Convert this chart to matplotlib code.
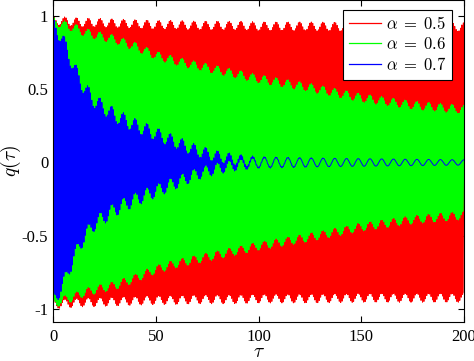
import numpy as np
import matplotlib
matplotlib.use("Agg")
import matplotlib.pyplot as plt

plt.rcParams['font.family'] = ['Liberation Serif', 'DejaVu Serif']
plt.rcParams['mathtext.fontset'] = 'cm'
plt.rcParams['axes.unicode_minus'] = False

# --- envelope readings (peak |q| at each tau) ---
tau_knots = [0, 5, 10, 15, 20, 30, 40, 50, 60, 70, 80, 90, 100, 125, 150, 175, 200]
env_05 = [1.0, 0.995, 0.99, 0.985, 0.985, 0.98, 0.975, 0.97, 0.97, 0.965, 0.965, 0.965, 0.96, 0.96, 0.955, 0.955, 0.955]
env_06 = [1.0, 0.97, 0.95, 0.92, 0.90, 0.87, 0.82, 0.76, 0.72, 0.69, 0.66, 0.63, 0.60, 0.54, 0.47, 0.42, 0.39]
env_07 = [1.0, 0.88, 0.70, 0.56, 0.47, 0.37, 0.30, 0.24, 0.18, 0.12, 0.08, 0.055, 0.04, 0.032, 0.026, 0.022, 0.018]

# slow ripple riding on the fast oscillation
ripple_05 = [0.03] * len(tau_knots)
ripple_06 = [0.03] * len(tau_knots)
ripple_07 = [0.05, 0.05, 0.05, 0.05, 0.05, 0.05, 0.048, 0.046, 0.044, 0.042, 0.04, 0.038, 0.036, 0.03, 0.026, 0.022, 0.018]

alphas = [0.5, 0.6, 0.7]
colors = ['#ff0000', '#00ff00', '#0000ff']
w_fast = 9.0     # fast carrier
w_slow = 1.1     # slow ripple, period ~5.7

tau = np.linspace(0, 200, 40001)


def build(env, ripple):
    e = np.interp(tau, tau_knots, env)
    r = np.interp(tau, tau_knots, ripple)
    fast = np.clip(e - r, 0, None)
    return fast * np.cos(w_fast * tau) + r * np.cos(w_slow * tau)


series = [build(env_05, ripple_05), build(env_06, ripple_06), build(env_07, ripple_07)]

fig = plt.figure(figsize=(4.74, 3.61), dpi=100)
ax = fig.add_axes([0.112, 0.108, 0.867, 0.892])

for a, q, c in zip(alphas, series, colors):
    ax.plot(tau, q, color=c, lw=0.7, label=r'$\alpha\;=\;%.1f$' % a)

ax.set_xlim(0, 200)
ax.set_ylim(-1.09, 1.11)
ax.set_xticks([0, 50, 100, 150, 200])
ax.set_xticklabels(['0', '50', '100', '150', '200'])
ax.set_yticks([-1, -0.5, 0, 0.5, 1])
ax.set_yticklabels(['-1', '-0.5', '0', '0.5', '1'])
ax.tick_params(direction='in', top=True, right=True, labelsize=12, length=4)
ax.tick_params(axis='x', pad=5)
ax.set_xlabel(r'$\tau$', fontsize=14, labelpad=-1)
ax.set_ylabel(r'$q(\tau)$', fontsize=14)
ax.yaxis.set_label_coords(-0.072, 0.5)

leg = ax.legend(loc='upper right', bbox_to_anchor=(452 / 474, 1 - 10 / 361),
                bbox_transform=fig.transFigure, fontsize=12, fancybox=False,
                framealpha=1, edgecolor='black', borderaxespad=0, handlelength=1.9,
                borderpad=0.35, labelspacing=0.25, handletextpad=0.3)
leg.get_frame().set_linewidth(0.8)
for line in leg.get_lines():
    line.set_linewidth(0.9)

fig.savefig('out.png', dpi=100)
